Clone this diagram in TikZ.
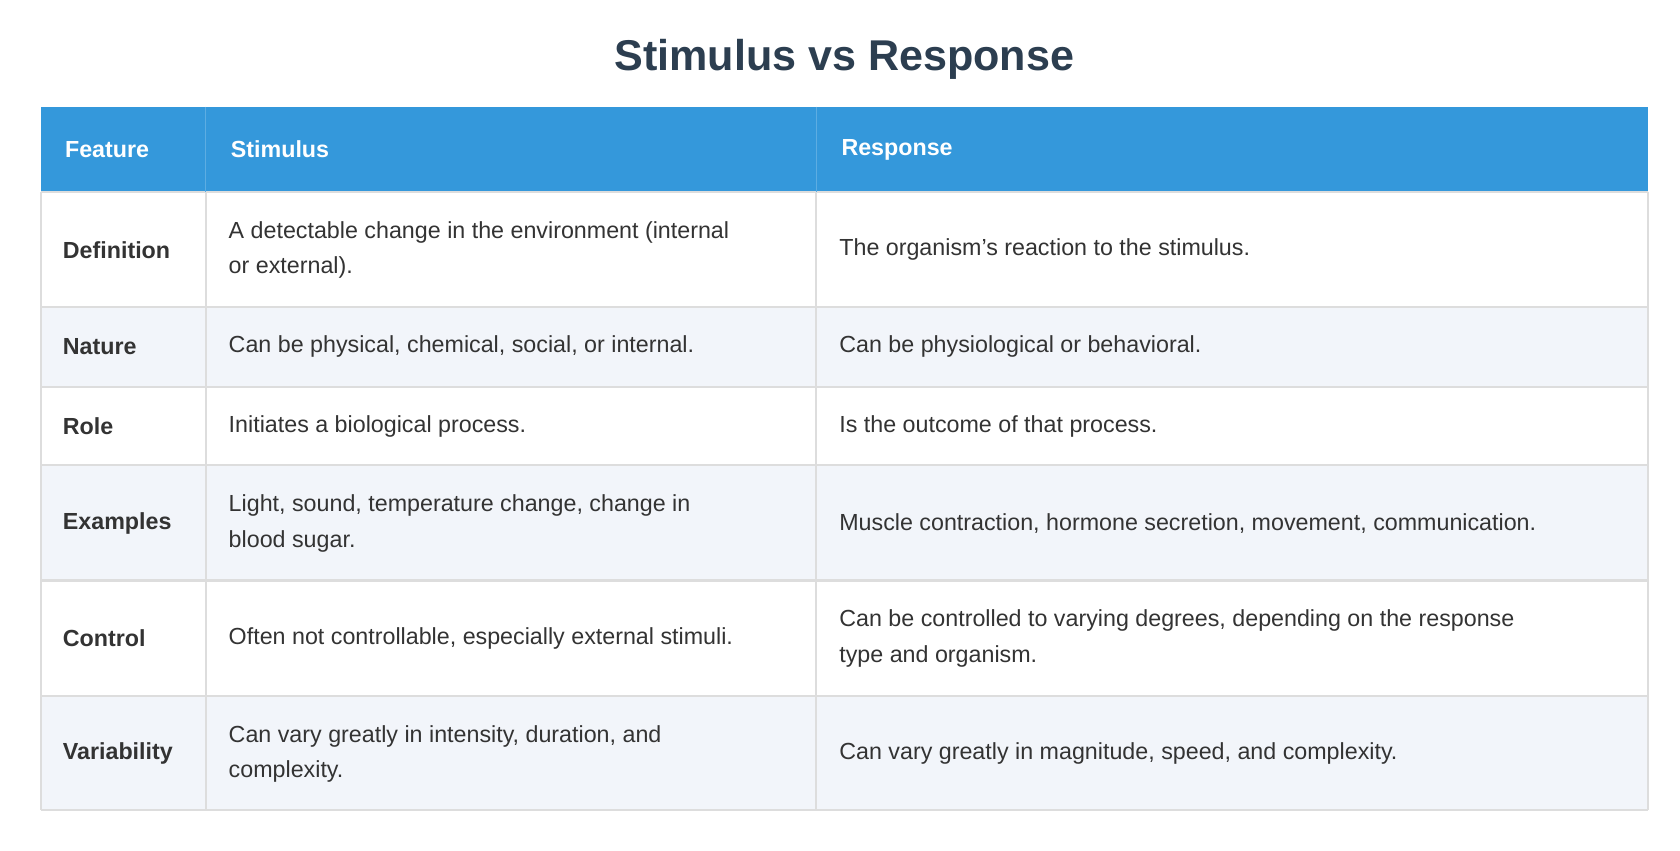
\documentclass[tikz,border=0pt]{standalone}
\usepackage{fontspec}
\setmainfont{Liberation Sans}
\definecolor{titlec}{HTML}{2C3E50}
\definecolor{headc}{HTML}{3498DB}
\definecolor{rowalt}{HTML}{F2F5FA}
\definecolor{gridc}{HTML}{DDDDDD}
\definecolor{txtc}{HTML}{333333}
\begin{document}
\begin{tikzpicture}[x=0.5pt,y=-0.5pt,
  cell/.style={anchor=west,inner sep=0pt,align=left,text=txtc,font=\fontsize{10.8}{16.5}\selectfont},
  feat/.style={cell,font=\fontsize{10.8}{16.5}\selectfont\bfseries},
  head/.style={anchor=west,inner sep=0pt,text=white,font=\fontsize{10.8}{13}\selectfont\bfseries}]
\useasboundingbox (0,0) rectangle (1560,790);
\fill[white] (0,0) rectangle (1560,790);
\node[font=\fontsize{20}{24}\selectfont\bfseries,text=titlec] (title) at (784,55) {Stimulus vs Response};
\fill[headc] (38,99) rectangle (1530,178);
\foreach \a/\b/\c in {178/285/white,285/359/rowalt,359/432/white,432/539/rowalt,539/646/white,646/752/rowalt}
  \fill[\c] (38,\a) rectangle (1530,\b);
\foreach \y in {178,285,359,432,539,646,752} \draw[gridc,line width=1pt] (38,\y) -- (1530,\y);
\foreach \x in {38,191,758,1530} \draw[gridc,line width=1pt] (\x,178) -- (\x,752);
\draw[headc!80!white,line width=0.6pt] (191,99) -- (191,178) (758,99) -- (758,178);
\node[head] (h1) at (60,139) {Feature};
\node[head] (h2) at (214,139) {Stimulus};
\node[head] (h3) at (781,139) {Response};
\node[feat] (f1) at (58,232) {Definition};
\node[feat] (f2) at (58,322) {Nature};
\node[feat] (f3) at (58,396) {Role};
\node[feat] (f4) at (58,486) {Examples};
\node[feat] (f5) at (58,593) {Control};
\node[feat] (f6) at (58,700) {Variability};
\node[cell] (s1) at (212,232) {A detectable change in the environment (internal\\or external).};
\node[cell] (s2) at (212,322) {Can be physical, chemical, social, or internal.};
\node[cell] (s3) at (212,396) {Initiates a biological process.};
\node[cell] (s4) at (212,486) {Light, sound, temperature change, change in\\blood sugar.};
\node[cell] (s5) at (212,593) {Often not controllable, especially external stimuli.};
\node[cell] (s6) at (212,700) {Can vary greatly in intensity, duration, and\\complexity.};
\node[cell] (r1) at (779,232) {The organism's reaction to the stimulus.};
\node[cell] (r2) at (779,322) {Can be physiological or behavioral.};
\node[cell] (r3) at (779,396) {Is the outcome of that process.};
\node[cell] (r4) at (779,486) {Muscle contraction, hormone secretion, movement, communication.};
\node[cell] (r5) at (779,593) {Can be controlled to varying degrees, depending on the response\\type and organism.};
\node[cell] (r6) at (779,700) {Can vary greatly in magnitude, speed, and complexity.};
\end{tikzpicture}
\end{document}
